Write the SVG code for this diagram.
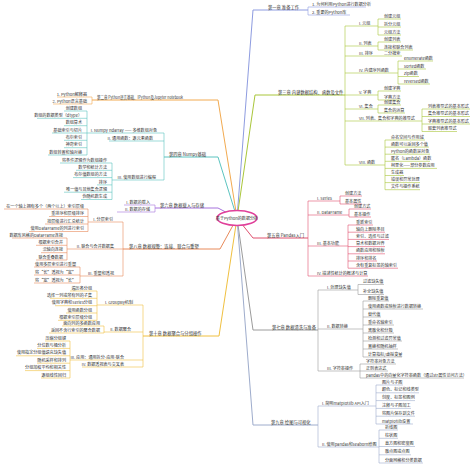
<svg xmlns="http://www.w3.org/2000/svg" width="474" height="466" viewBox="0 0 474 466">
<style>
.t{font-family:"Noto Sans CJK SC","Noto Sans",sans-serif;font-size:4.1px;fill:#333}
.h{font-size:4.3px}
.e{text-anchor:end}
.m{text-anchor:middle}
path{fill:none}
.w1{stroke-width:1}
.w2{stroke-width:.6}
.c1{stroke:#8e9ce0}.c2{stroke:#f2aa50}.c3{stroke:#a9c63a}.c4{stroke:#5cc4c0}.c5{stroke:#e0506e}
.c6{stroke:#a673dc}.c7{stroke:#9c9c9c}.c8{stroke:#e88a5a}.c9{stroke:#9eaccc}.c10{stroke:#f0c040}
</style>
<rect width="474" height="466" fill="#fff"/>
<g id="connectors">
<path class="c1 w1" d="M237,218 L253,10 H308"/>
<path class="c1 w2" d="M308,7 V15 M308,7 H366 M308,15 H350"/>
<path class="c3 w1" d="M237,218 L255,95 H345"/>
<path class="c3 w2" d="M345,26 V165 M345,26 H378 M378,19 V35 M378,19 H401 M378,27 H401 M378,35 H401 M345,46 H378 M378,42 V50 M378,42 H401 M378,50 H413 M345,56 H402 M345,73 H398 M398,61 V84 M398,61 H433 M398,69 H426 M398,76.5 H419 M398,84 H430 M345,95 H378 M378,91 V100 M378,91 H401 M378,100 H401 M345,109 H378 M378,105 V113 M378,105 H401 M378,113 H405 M345,121 H422 M422,109 V131.5 M422,109 H470 M422,116.5 H470 M422,124 H470 M422,131.5 H457 M345,165 H385 M385,140 V189.7 M385,140 H425 M385,147.1 H429 M385,154.2 H430 M385,161.3 H430 M385,168.4 H437 M385,175.5 H404 M385,182.6 H420 M385,189.7 H420"/>
<path class="c5 w1" d="M237,218 L253,238 H308"/>
<path class="c5 w2" d="M308,201 V276 M308,201 H340 M340,196 V204 M340,196 H362 M340,204 H362 M308,215 H349 M349,209 V217 M349,209 H371 M349,217 H371 M308,246 H348 M348,225 V268.2 M348,225 H373 M348,232.2 H385 M348,239.4 H389 M348,246.6 H385 M348,253.8 H385 M348,261 H377 M348,268.2 H398 M308,276 H368"/>
<path class="c7 w1" d="M237,218 L253,330 H318"/>
<path class="c7 w2" d="M318,290 V371 M318,290 H358 M358,284.5 V294.5 M358,284.5 H384 M358,294.5 H384 M318,329 H363 M363,301 V357 M363,301 H389 M363,309 H423 M363,317 H381 M363,325 H394 M363,333 H394 M363,341 H402 M363,349 H398 M363,357 H402 M318,371 H360 M360,364 V378 M360,364 H396 M360,371 H388 M360,378 H464"/>
<path class="c9 w1" d="M237,218 L253,425 H318"/>
<path class="c9 w2" d="M318,406 V447 M318,406 H376 M376,385 V424 M376,385 H403 M376,392.8 H419 M376,400.6 H415 M376,408.4 H411 M376,416.2 H415 M376,424 H413 M318,447 H379 M379,430 V463 M379,430 H398 M379,438.3 H398 M379,446.5 H415 M379,454.8 H411 M379,463 H423"/>
<path class="c2 w1" d="M237,218 L218,100 H92"/>
<path class="c2 w2" d="M92,97 V104 M92,97 H57 M92,104 H53"/>
<path class="c4 w1" d="M237,218 L218,157 H164"/>
<path class="c4 w2" d="M164,133 V180 M164,133 H87 M87,111 V155 M87,111 H64 M87,118.3 H37 M87,125.7 H64 M87,133 H52 M87,140.3 H64 M87,147.7 H64 M87,155 H48 M164,141 H109 M164,180 H112 M112,163 V199.5 M112,163 H60 M112,170.3 H76 M112,177.6 H73 M112,184.9 H97 M112,192.2 H64 M112,199.5 H81"/>
<path class="c6 w1" d="M237,218 L218,208 H155"/>
<path class="c6 w2" d="M155,205 V212 M155,205 H124 M155,212 H117"/>
<path class="c8 w1" d="M237,218 L220,249 H123"/>
<path class="c8 w2" d="M123,222 V276 M123,222 H88 M88,209 V231.5 M88,209 H4 M88,216.5 H49 M88,224 H45 M88,231.5 H29 M123,249 H67 M67,238 V260 M67,238 H12 M67,245.3 H36 M67,252.7 H41 M67,260 H36 M123,276 H80 M80,267 V283 M80,267 H34 M80,275 H34 M80,283 H34"/>
<path class="c10 w1" d="M237,218 L219,336 H143"/>
<path class="c10 w2" d="M143,305 V367 M143,305 H97 M97,291 V320.3 M97,291 H70 M97,298.3 H50 M97,305.7 H55 M97,313 H66 M97,320.3 H58 M143,332 H104 M104,326 V333 M104,326 H62 M104,333 H49 M143,360 H70 M70,341 V378 M70,341 H45 M70,348.4 H37 M70,355.8 H16 M70,363.2 H37 M70,370.6 H25 M70,378 H41 M143,367 H82"/>
</g>
<g id="center">
<ellipse cx="237" cy="218" rx="20" ry="7.5" fill="#fff" stroke="#e0409a" stroke-width="1.5"/>
<text class="t m" x="237" y="219.5">基于Python的数据分析</text>
</g>
<g id="ch1"><text class="t h" x="268" y="8.6">第一章 准备工作</text></g>
<g id="ch1-1"><text class="t" x="312" y="5.6">1. 为何利用Python进行数据分析</text></g>
<g id="ch1-2"><text class="t" x="312" y="13.6">2. 重要的Python库</text></g>
<g id="ch3"><text class="t h" x="278" y="93.6">第三章 内建数据结构、函数及文件</text></g>
<g id="ch3-1"><text class="t" x="359" y="24.6">I. 元组</text></g>
<g id="ch3-1-1"><text class="t" x="384" y="17.6">创建元组</text></g>
<g id="ch3-1-2"><text class="t" x="384" y="25.6">拆分元组</text></g>
<g id="ch3-1-3"><text class="t" x="384" y="33.6">元组方法</text></g>
<g id="ch3-2"><text class="t" x="359" y="44.6">II. 列表</text></g>
<g id="ch3-2-1"><text class="t" x="384" y="40.6">创建列表</text></g>
<g id="ch3-2-2"><text class="t" x="384" y="48.6">连接和联合列表</text></g>
<g id="ch3-3"><text class="t" x="359" y="54.6">III. 排序</text></g>
<g id="ch3-3-1"><text class="t" x="384" y="54.6">二分搜索</text></g>
<g id="ch3-4"><text class="t" x="359" y="71.6">IV. 内建序列函数</text></g>
<g id="ch3-4-1"><text class="t" x="404" y="59.6">enumerate函数</text></g>
<g id="ch3-4-2"><text class="t" x="404" y="67.6">sorted函数</text></g>
<g id="ch3-4-3"><text class="t" x="404" y="75.1">zip函数</text></g>
<g id="ch3-4-4"><text class="t" x="404" y="82.6">reversed函数</text></g>
<g id="ch3-5"><text class="t" x="359" y="93.6">V. 字典</text></g>
<g id="ch3-5-1"><text class="t" x="384" y="89.6">创建字典</text></g>
<g id="ch3-5-2"><text class="t" x="384" y="98.6">字典方法</text></g>
<g id="ch3-6"><text class="t" x="359" y="107.6">VI. 集合</text></g>
<g id="ch3-6-1"><text class="t" x="384" y="103.6">创建集合</text></g>
<g id="ch3-6-2"><text class="t" x="384" y="111.6">集合的运算</text></g>
<g id="ch3-7"><text class="t" x="359" y="119.6">VII. 列表、集合和字典的推导式</text></g>
<g id="ch3-7-1"><text class="t" x="428" y="107.6">列表推导式的基本形式</text></g>
<g id="ch3-7-2"><text class="t" x="428" y="115.1">集合推导式的基本形式</text></g>
<g id="ch3-7-3"><text class="t" x="428" y="122.6">字典推导式的基本形式</text></g>
<g id="ch3-7-4"><text class="t" x="428" y="130.1">嵌套列表推导式</text></g>
<g id="ch3-8"><text class="t" x="359" y="163.6">VIII. 函数</text></g>
<g id="ch3-8-1"><text class="t" x="391" y="138.6">命名空间与作用域</text></g>
<g id="ch3-8-2"><text class="t" x="391" y="145.7">函数可以返回多个值</text></g>
<g id="ch3-8-3"><text class="t" x="391" y="152.8">Python的函数是对象</text></g>
<g id="ch3-8-4"><text class="t" x="391" y="159.9">匿名（Lambda）函数</text></g>
<g id="ch3-8-5"><text class="t" x="391" y="167">柯里化——部分参数应用</text></g>
<g id="ch3-8-6"><text class="t" x="391" y="174.1">生成器</text></g>
<g id="ch3-8-7"><text class="t" x="391" y="181.2">错误和异常处理</text></g>
<g id="ch3-8-8"><text class="t" x="391" y="188.3">文件与操作系统</text></g>
<g id="ch5"><text class="t h" x="267" y="236.6">第五章 Pandas入门</text></g>
<g id="ch5-1"><text class="t" x="317" y="199.6">I. Series</text></g>
<g id="ch5-1-1"><text class="t" x="345" y="194.6">创建方法</text></g>
<g id="ch5-1-2"><text class="t" x="345" y="202.6">基本属性</text></g>
<g id="ch5-2"><text class="t" x="317" y="213.6">II. DataFrame</text></g>
<g id="ch5-2-1"><text class="t" x="354" y="207.6">创建方式</text></g>
<g id="ch5-2-2"><text class="t" x="354" y="215.6">基本操作</text></g>
<g id="ch5-3"><text class="t" x="317" y="244.6">III. 基本功能</text></g>
<g id="ch5-3-1"><text class="t" x="356" y="223.6">重新索引</text></g>
<g id="ch5-3-2"><text class="t" x="356" y="230.8">轴向上删除条目</text></g>
<g id="ch5-3-3"><text class="t" x="356" y="238">索引、选择与过滤</text></g>
<g id="ch5-3-4"><text class="t" x="356" y="245.2">算术和数据对齐</text></g>
<g id="ch5-3-5"><text class="t" x="356" y="252.4">函数应用和映射</text></g>
<g id="ch5-3-6"><text class="t" x="356" y="259.6">排序和排名</text></g>
<g id="ch5-3-7"><text class="t" x="356" y="266.8">含有重复标签的轴索引</text></g>
<g id="ch5-4"><text class="t" x="317" y="274.6">IV. 描述性统计的概述与计算</text></g>
<g id="ch7"><text class="t h" x="272" y="328.6">第七章 数据清洗与准备</text></g>
<g id="ch7-1"><text class="t" x="327" y="288.6">I. 处理缺失值</text></g>
<g id="ch7-1-1"><text class="t" x="363" y="283.1">过滤缺失值</text></g>
<g id="ch7-1-2"><text class="t" x="363" y="293.1">补全缺失值</text></g>
<g id="ch7-2"><text class="t" x="327" y="327.6">II. 数据转换</text></g>
<g id="ch7-2-1"><text class="t" x="368" y="299.6">删除重复值</text></g>
<g id="ch7-2-2"><text class="t" x="368" y="307.6">使用函数或映射进行数据转换</text></g>
<g id="ch7-2-3"><text class="t" x="368" y="315.6">替代值</text></g>
<g id="ch7-2-4"><text class="t" x="368" y="323.6">重命名轴索引</text></g>
<g id="ch7-2-5"><text class="t" x="368" y="331.6">离散化和分箱</text></g>
<g id="ch7-2-6"><text class="t" x="368" y="339.6">检测和过滤异常值</text></g>
<g id="ch7-2-7"><text class="t" x="368" y="347.6">置换和随机抽样</text></g>
<g id="ch7-2-8"><text class="t" x="368" y="355.6">计算指标/虚拟变量</text></g>
<g id="ch7-3"><text class="t" x="327" y="369.6">III. 字符串操作</text></g>
<g id="ch7-3-1"><text class="t" x="366" y="362.6">字符串对象方法</text></g>
<g id="ch7-3-2"><text class="t" x="366" y="369.6">正则表达式</text></g>
<g id="ch7-3-3"><text class="t" x="366" y="376.6">pandas中的向量化字符串函数（通过str属性访问方法）</text></g>
<g id="ch9"><text class="t h" x="271" y="423.6">第九章 绘图与可视化</text></g>
<g id="ch9-1"><text class="t" x="322" y="404.6">I. 简明matplotlib API入门</text></g>
<g id="ch9-1-1"><text class="t" x="382" y="383.6">图片与子图</text></g>
<g id="ch9-1-2"><text class="t" x="382" y="391.4">颜色、标记和线类型</text></g>
<g id="ch9-1-3"><text class="t" x="382" y="399.2">刻度、标签和图例</text></g>
<g id="ch9-1-4"><text class="t" x="382" y="407">注释与子图加工</text></g>
<g id="ch9-1-5"><text class="t" x="382" y="414.8">将图片保存到文件</text></g>
<g id="ch9-1-6"><text class="t" x="382" y="422.6">matplotlib设置</text></g>
<g id="ch9-2"><text class="t" x="322" y="445.6">II. 使用pandas和seaborn绘图</text></g>
<g id="ch9-2-1"><text class="t" x="385" y="428.6">折线图</text></g>
<g id="ch9-2-2"><text class="t" x="385" y="436.9">柱状图</text></g>
<g id="ch9-2-3"><text class="t" x="385" y="445.1">直方图和密度图</text></g>
<g id="ch9-2-4"><text class="t" x="385" y="453.4">散点图或点图</text></g>
<g id="ch9-2-5"><text class="t" x="385" y="461.6">分面网格和分类数据</text></g>
<g id="ch2"><text class="t h" x="97" y="98.6" textLength="86" lengthAdjust="spacingAndGlyphs">第二章 Python语言基础、IPython及Jupyter notebook</text></g>
<g id="ch2-1"><text class="t e" x="87" y="95.6">1. Python解释器</text></g>
<g id="ch2-2"><text class="t e" x="87" y="102.6">2. Python语言基础</text></g>
<g id="ch4"><text class="t h" x="169" y="155.6">第四章 Numpy基础</text></g>
<g id="ch4-1"><text class="t e" x="157" y="131.6">I. Numpy ndarray —— 多维数组对象</text></g>
<g id="ch4-1-1"><text class="t e" x="82" y="109.6">创建数组</text></g>
<g id="ch4-1-2"><text class="t e" x="82" y="116.9">数组的数据类型（dtype）</text></g>
<g id="ch4-1-3"><text class="t e" x="82" y="124.3">数组算术</text></g>
<g id="ch4-1-4"><text class="t e" x="82" y="131.6">基础索引与切片</text></g>
<g id="ch4-1-5"><text class="t e" x="82" y="138.9">布尔索引</text></g>
<g id="ch4-1-6"><text class="t e" x="82" y="146.3">神奇索引</text></g>
<g id="ch4-1-7"><text class="t e" x="82" y="153.6">数组转置和轴对换</text></g>
<g id="ch4-2"><text class="t e" x="153" y="139.6">II. 通用函数：逐元素函数</text></g>
<g id="ch4-3"><text class="t e" x="156" y="178.6">III. 使用数组进行编程</text></g>
<g id="ch4-3-1"><text class="t e" x="107" y="161.6">将条件逻辑作为数组操作</text></g>
<g id="ch4-3-2"><text class="t e" x="107" y="168.9">数学和统计方法</text></g>
<g id="ch4-3-3"><text class="t e" x="107" y="176.2">布尔值数组的方法</text></g>
<g id="ch4-3-4"><text class="t e" x="107" y="183.5">排序</text></g>
<g id="ch4-3-5"><text class="t e" x="107" y="190.8">唯一值与其他集合逻辑</text></g>
<g id="ch4-3-6"><text class="t e" x="107" y="198.1">伪随机数生成</text></g>
<g id="ch6"><text class="t h" x="160" y="206.6">第六章 数据载入与存储</text></g>
<g id="ch6-1"><text class="t e" x="150" y="203.6">I. 数据的载入</text></g>
<g id="ch6-2"><text class="t e" x="150" y="210.6">II. 数据的存储</text></g>
<g id="ch8"><text class="t h" x="129" y="247.6">第八章 数据规整：连接、联合与重塑</text></g>
<g id="ch8-1"><text class="t e" x="113" y="220.6">I. 分层索引</text></g>
<g id="ch8-1-1"><text class="t e" x="84" y="207.6">在一个轴上拥有多个（两个以上）索引层级</text></g>
<g id="ch8-1-2"><text class="t e" x="84" y="215.1">重排序和层级排序</text></g>
<g id="ch8-1-3"><text class="t e" x="84" y="222.6">按层级进行汇总统计</text></g>
<g id="ch8-1-4"><text class="t e" x="84" y="230.1">使用DataFrame的列进行索引</text></g>
<g id="ch8-2"><text class="t e" x="114" y="247.6">II. 联合与合并数据集</text></g>
<g id="ch8-2-1"><text class="t e" x="63" y="236.6">数据库风格的DataFrame连接</text></g>
<g id="ch8-2-2"><text class="t e" x="63" y="243.9">根据索引合并</text></g>
<g id="ch8-2-3"><text class="t e" x="63" y="251.3">沿轴向连接</text></g>
<g id="ch8-2-4"><text class="t e" x="63" y="258.6">联合重叠数据</text></g>
<g id="ch8-3"><text class="t e" x="114" y="274.6">III. 重塑和透视</text></g>
<g id="ch8-3-1"><text class="t e" x="76" y="265.6">使用多层索引进行重塑</text></g>
<g id="ch8-3-2"><text class="t e" x="76" y="273.6">将“长”透视为“宽”</text></g>
<g id="ch8-3-3"><text class="t e" x="76" y="281.6">将“宽”透视为“长”</text></g>
<g id="ch10"><text class="t h" x="149" y="334.6">第十章 数据聚合与分组操作</text></g>
<g id="ch10-1"><text class="t e" x="133" y="303.6">I. GroupBy机制</text></g>
<g id="ch10-1-1"><text class="t e" x="92" y="289.6">遍历各分组</text></g>
<g id="ch10-1-2"><text class="t e" x="92" y="296.9">选择一列或所有列的子集</text></g>
<g id="ch10-1-3"><text class="t e" x="92" y="304.3">使用字典和Series分组</text></g>
<g id="ch10-1-4"><text class="t e" x="92" y="311.6">使用函数分组</text></g>
<g id="ch10-1-5"><text class="t e" x="92" y="318.9">根据索引层级分组</text></g>
<g id="ch10-2"><text class="t e" x="131" y="330.6">II. 数据聚合</text></g>
<g id="ch10-2-1"><text class="t e" x="100" y="324.6">面向列的多函数应用</text></g>
<g id="ch10-2-2"><text class="t e" x="100" y="331.6">返回不含行索引的聚合数据</text></g>
<g id="ch10-3"><text class="t e" x="124" y="358.6">III. 应用：通用拆分-应用-联合</text></g>
<g id="ch10-3-1"><text class="t e" x="66" y="339.6">压缩分组键</text></g>
<g id="ch10-3-2"><text class="t e" x="66" y="347">分位数与桶分析</text></g>
<g id="ch10-3-3"><text class="t e" x="66" y="354.4">使用指定分组值填充缺失值</text></g>
<g id="ch10-3-4"><text class="t e" x="66" y="361.8">随机采样和排列</text></g>
<g id="ch10-3-5"><text class="t e" x="66" y="369.2">分组加权平均和相关性</text></g>
<g id="ch10-3-6"><text class="t e" x="66" y="376.6">逐组线性回归</text></g>
<g id="ch10-4"><text class="t e" x="124" y="365.6">IV. 数据透视表与交叉表</text></g>
</svg>
